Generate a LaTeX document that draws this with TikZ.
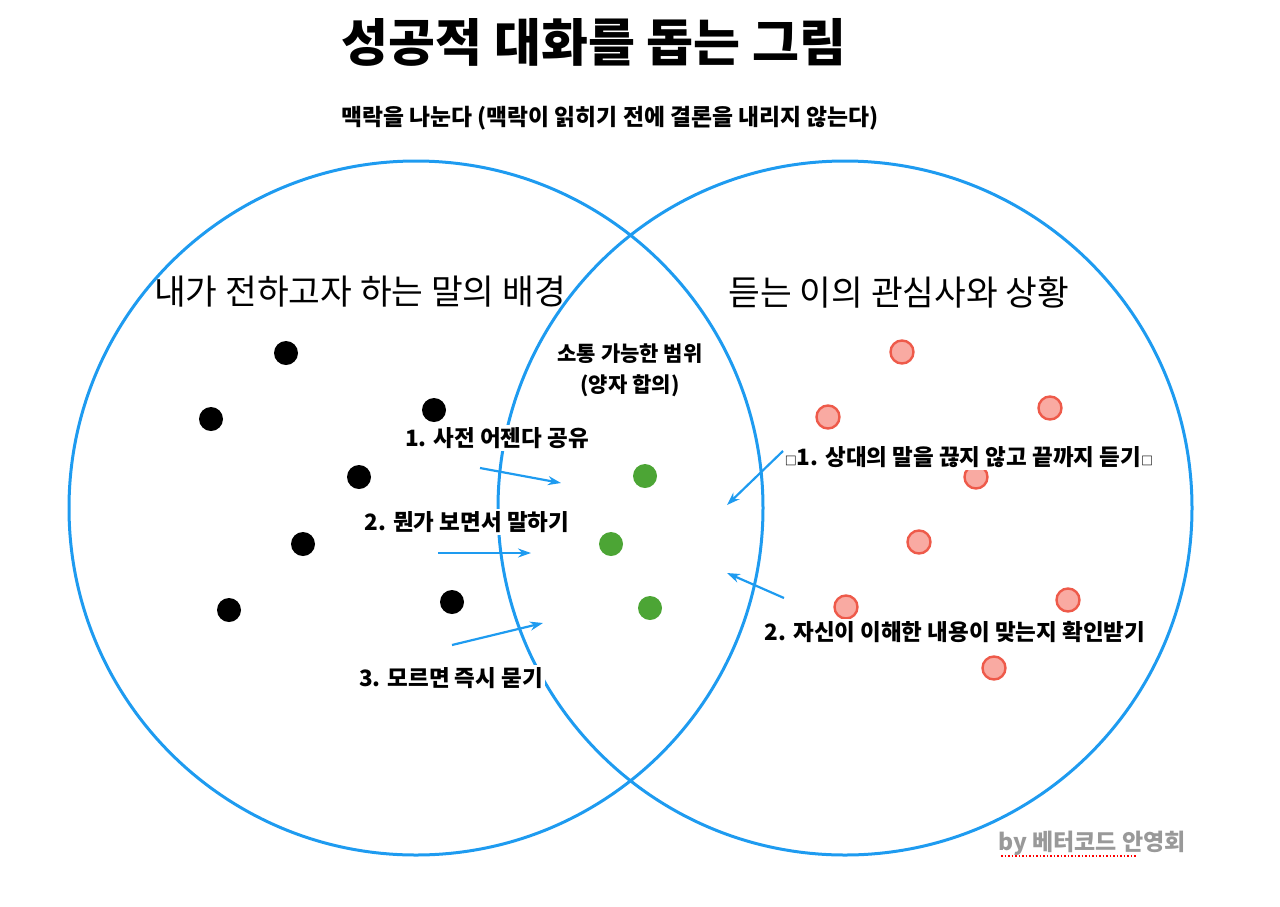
\documentclass[tikz,border=0pt]{standalone}
\usepackage{fontspec}
\setmainfont{Noto Sans CJK KR}
\usetikzlibrary{arrows.meta}
\definecolor{ringblue}{HTML}{1E9BF0}
\definecolor{dotgreen}{HTML}{4CA535}
\definecolor{dotred}{HTML}{EE5A4A}
\definecolor{dotpink}{HTML}{F9AAA2}
\newcommand{\smallbox}{{\fontsize{12}{12}\selectfont □}}
\tikzset{
  ring/.style={draw=ringblue,line width=3pt},
  blackdot/.style={fill=black,circle,inner sep=0pt,minimum size=24pt},
  greendot/.style={fill=dotgreen,circle,inner sep=0pt,minimum size=24pt},
  reddot/.style={fill=dotpink,draw=dotred,line width=2.4pt,circle,inner sep=0pt,minimum size=23pt},
  tip/.style={draw=ringblue,line width=2.2pt,-{Stealth[length=13pt,width=9pt]}},
  step label/.style={font=\fontsize{22.5}{26}\selectfont\bfseries,fill=white,inner sep=2pt}
}
\begin{document}
\begin{tikzpicture}[x=1pt,y=-1pt]
          \useasboundingbox (0,0) rectangle (1280,906);

          % rings
          \draw[ring] (416,508) circle (347);
          \draw[ring] (845,508) circle (347);

          % titles
          \node (title) at (594,42) {\fontsize{51}{56}\selectfont\bfseries 성공적 대화를 돕는 그림};
          \node (sub) at (610,118) {\fontsize{22.8}{26}\selectfont\bfseries 맥락을 나눈다 (맥락이 읽히기 전에 결론을 내리지 않는다)};
          \node (left) at (360,292) {\fontsize{34.5}{38}\selectfont 내가 전하고자 하는 말의 배경};
          \node (right) at (899,292) {\fontsize{34.5}{38}\selectfont 듣는 이의 관심사와 상황};
          \node (mid) at (630,370) [align=center,font=\fontsize{21}{31}\selectfont\bfseries] {소통 가능한 범위\\(양자 합의)};

          % dots
          \foreach \x/\y [count=\i] in {286/353,211/419,434/410,359/477,303/544,229/610,452/602}
            \node (b\i) at (\x,\y) [blackdot] {};
          \foreach \x/\y [count=\i] in {645/476,611/544,650/608}
            \node (g\i) at (\x,\y) [greendot] {};
          \foreach \x/\y [count=\i] in {902/352,828/417,1050/408,976/477,919/542,846/607,1068/600,994/668}
            \node (r\i) at (\x,\y) [reddot] {};

          % steps
          \node (s1) at (497,438) [step label] {1. 사전 어젠다 공유};
          \node (s2) at (467,522) [step label] {2. 뭔가 보면서 말하기};
          \node (s3) at (451,678) [step label] {3. 모르면 즉시 묻기};
          \node (t1) at (969,457) [step label] {\smallbox1. 상대의 말을 끊지 않고 끝까지 듣기\smallbox};
          \node (t2) at (955,632) [step label] {2. 자신이 이해한 내용이 맞는지 확인받기};

          % arrows
          \coordinate (a1) at (480,468); \coordinate (e1) at (561,483);
          \coordinate (a2) at (438,553); \coordinate (e2) at (531,553);
          \coordinate (a3) at (452,645); \coordinate (e3) at (543,623);
          \coordinate (a4) at (783,451); \coordinate (e4) at (727,505);
          \coordinate (a5) at (784,598); \coordinate (e5) at (727,573);
          \foreach \i in {1,...,5}
            \draw[tip] (a\i) -- (e\i);

          % signature
          \node (sig) at (1092,843) {\fontsize{23}{26}\selectfont\bfseries\color{gray!80}by 베터코드 안영회};
          \draw[red,dotted,line width=1.5pt] (1001,856) -- (1136,856);
        \end{tikzpicture}
\end{document}
